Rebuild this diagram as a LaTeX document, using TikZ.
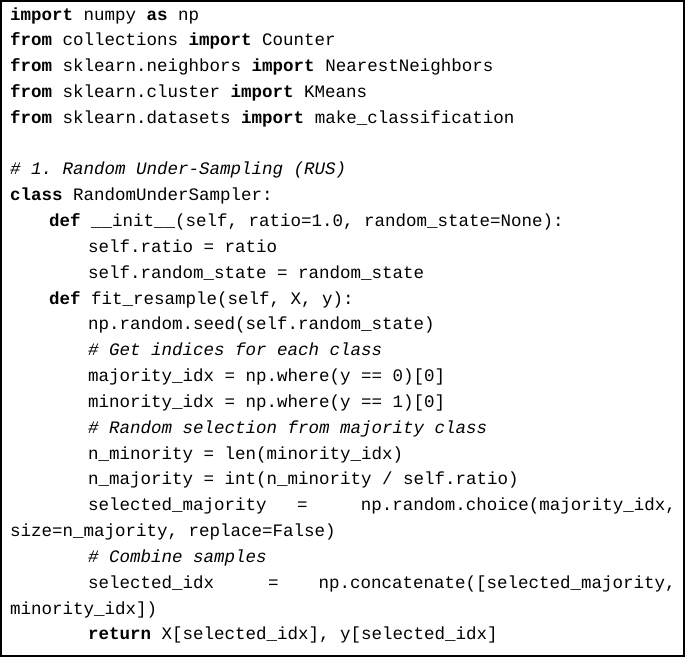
\documentclass[tikz,border=0pt]{standalone}
\usepackage{fontspec}
\setmonofont{Liberation Mono}
\begin{document}
\begin{tikzpicture}[x=1pt,y=1pt,
  ln/.style={anchor=base west,inner sep=0pt,font=\ttfamily\fontsize{17.5}{20}\selectfont},
  lr/.style={anchor=base east,inner sep=0pt,font=\ttfamily\fontsize{17.5}{20}\selectfont}]
\useasboundingbox (0,0) rectangle (685,-657);
\draw[line width=1.2pt] (1,-1) rectangle (684,-656);
\def\L#1{-20-25.83*(#1-1)}
\node[ln] (l1) at (10,{\L1}) {\textbf{import} numpy \textbf{as} np};
\node[ln] (l2) at (10,{\L2}) {\textbf{from} collections \textbf{import} Counter};
\node[ln] (l3) at (10,{\L3}) {\textbf{from} sklearn.neighbors \textbf{import} NearestNeighbors};
\node[ln] (l4) at (10,{\L4}) {\textbf{from} sklearn.cluster \textbf{import} KMeans};
\node[ln] (l5) at (10,{\L5}) {\textbf{from} sklearn.datasets \textbf{import} make\_classification};
\node[ln] (l7) at (10,{\L7}) {\textit{\# 1. Random Under-Sampling (RUS)}};
\node[ln] (l8) at (10,{\L8}) {\textbf{class} RandomUnderSampler:};
\node[ln] (l9) at (49,{\L9}) {\textbf{def} \_\_init\_\_(self, ratio=1.0, random\_state=None):};
\node[ln] (l10) at (88,{\L{10}}) {self.ratio = ratio};
\node[ln] (l11) at (88,{\L{11}}) {self.random\_state = random\_state};
\node[ln] (l12) at (49,{\L{12}}) {\textbf{def} fit\_resample(self, X, y):};
\node[ln] (l13) at (88,{\L{13}}) {np.random.seed(self.random\_state)};
\node[ln] (l14) at (88,{\L{14}}) {\textit{\# Get indices for each class}};
\node[ln] (l15) at (88,{\L{15}}) {majority\_idx = np.where(y == 0)[0]};
\node[ln] (l16) at (88,{\L{16}}) {minority\_idx = np.where(y == 1)[0]};
\node[ln] (l17) at (88,{\L{17}}) {\textit{\# Random selection from majority class}};
\node[ln] (l18) at (88,{\L{18}}) {n\_minority = len(minority\_idx)};
\node[ln] (l19) at (88,{\L{19}}) {n\_majority = int(n\_minority / self.ratio)};
\node[ln] (l20a) at (88,{\L{20}}) {selected\_majority};
\node[ln] (l20b) at (297,{\L{20}}) {=};
\node[lr] (l20c) at (676,{\L{20}}) {np.random.choice(majority\_idx,};
\node[ln] (l21) at (10,{\L{21}}) {size=n\_majority, replace=False)};
\node[ln] (l22) at (88,{\L{22}}) {\textit{\# Combine samples}};
\node[ln] (l23a) at (88,{\L{23}}) {selected\_idx};
\node[ln] (l23b) at (268,{\L{23}}) {=};
\node[lr] (l23c) at (676,{\L{23}}) {np.concatenate([selected\_majority,};
\node[ln] (l24) at (10,{\L{24}}) {minority\_idx])};
\node[ln] (l25) at (88,{\L{25}}) {\textbf{return} X[selected\_idx], y[selected\_idx]};
\end{tikzpicture}
\end{document}
